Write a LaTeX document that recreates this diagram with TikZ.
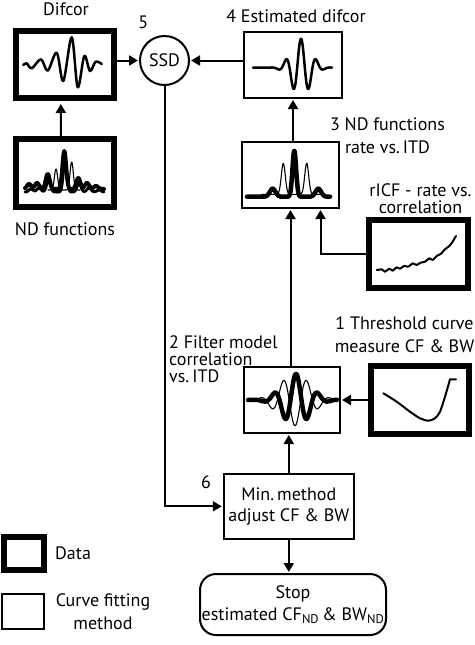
\documentclass[tikz,border=0pt]{standalone}
\usepackage{fontspec}
\setmainfont{PT Sans}
\usetikzlibrary{arrows.meta,calc}
\newcommand\myfirst{\rule{0pt}{14pt}}
\begin{document}
\begin{tikzpicture}[x=1pt,y=-1pt,
  databox/.style={draw, rectangle, line width=6pt, inner sep=0pt},
  fitbox/.style={draw, rectangle, line width=2pt, inner sep=0pt},
  arr/.style={line width=2pt, -{Triangle[length=9pt,width=10pt]}},
  lbl/.style={inner sep=0pt, font=\fontsize{18}{21}\selectfont},
  wave/.style={line width=2.5pt, line join=round, line cap=round},
  thin wave/.style={line width=1.1pt, line join=round, line cap=round},
  fat wave/.style={line width=4.5pt, line join=round, line cap=round},
]
\fill[white] (0,0) rectangle (474,645);
\useasboundingbox (0,0) rectangle (474,645);

% ---------- boxes ----------
\node[databox, minimum width=98.5pt, minimum height=67pt] (difcor) at (64.75,64.5) {};
\node[databox, minimum width=98pt, minimum height=68pt] (ndfun) at (65,173) {};
\node[draw, circle, line width=2pt, minimum size=49pt, inner sep=0pt,
      font=\fontsize{18}{21}\selectfont] (ssd) at (164.5,60.5) {SSD};
\node[fitbox, minimum width=98pt, minimum height=66pt] (estdif) at (293,65) {};
\node[fitbox, minimum width=97pt, minimum height=66pt] (ndrate) at (290.5,175) {};
\node[databox, minimum width=99pt, minimum height=68pt] (ricf) at (418.5,254) {};
\node[fitbox, minimum width=96pt, minimum height=66pt] (filter) at (292,400) {};
\node[databox, minimum width=98pt, minimum height=68pt] (thresh) at (420,400) {};
\node[fitbox, minimum width=130pt, minimum height=65pt, align=center,
      font=\fontsize{18}{21}\selectfont] (minm) at (288.8,506.3)
      {Min.\,method\\adjust CF \& BW};
\node[fitbox, rounded corners=16pt, minimum width=186pt, minimum height=61pt, align=center,
      font=\fontsize{18}{22}\selectfont] (stop) at (293,604.5)
      {Stop\\estimated CF\textsubscript{ND}\,\& BW\textsubscript{ND}};
\node[databox, minimum width=40.5pt, minimum height=33pt] (legdata) at (23.75,553.5) {};
\node[fitbox, minimum width=42.5pt, minimum height=35pt] (legfit) at (22.75,611.5) {};

% ---------- labels ----------
\node[lbl, anchor=base] (tdifcor) at (66,15.5) {Difcor};
\node[lbl, anchor=base] (tndf) at (65,235) {ND functions};
\node[lbl, anchor=base] (t5) at (143.3,28) {5};
\node[lbl, anchor=base] (t4) at (296,22.7) {4 Estimated difcor};
\node[lbl, anchor=north, align=center, font=\fontsize{18}{22.5}\selectfont] (t3) at (387.5,116.3)
     {\myfirst 3 ND functions\\rate vs.\,ITD};
\node[lbl, anchor=north, align=center, font=\fontsize{18}{16.7}\selectfont] (tricf) at (420.5,182.7)
     {\myfirst rICF - rate vs.\\correlation};
\node[lbl, anchor=north, align=center, font=\fontsize{18}{23}\selectfont] (tthr) at (404.5,315)
     {\myfirst 1 Threshold curve\\measure CF \& BW};
\node[lbl, anchor=north west, align=left, font=\fontsize{18}{17.2}\selectfont] (tfilt) at (169,334)
     {\myfirst 2 Filter model\\correlation\\vs.\,ITD};
\node[lbl, anchor=base] (t6) at (206,488.3) {6};
\node[lbl, anchor=base west] (tdata) at (55,559.3) {Data};
\node[lbl, anchor=north, align=center, font=\fontsize{18}{22.5}\selectfont] (tfit) at (103,592.7)
     {\myfirst Curve fitting\\method};

% ---------- connectors ----------
\draw[arr, shorten >=3pt] ([xshift=-4pt]ndfun.north) -- ([xshift=-4pt]difcor.south);
\draw[arr, shorten >=1pt] (ssd.west -| difcor.east) -- (ssd.west);
\draw[arr, shorten >=1pt] (ssd.east -| estdif.west) -- (ssd.east);
\draw[arr, shorten >=1pt] (ndrate.north -| estdif.south) -- (estdif.south);
\draw[arr, shorten >=1pt] (filter.north -| ndrate.south) -- (ndrate.south);
\draw[arr, shorten >=1pt] (ricf.west) -| ([xshift=30pt]ndrate.south);
\draw[arr, shorten >=1pt] (thresh.west) -- (filter.east);
\draw[arr, shorten >=1pt] (minm.north) -- (minm.north |- filter.south);
\draw[arr, shorten >=1pt] (minm.south) -- (minm.south |- stop.north);
\draw[arr, shorten >=1pt] (ssd.south) |- (minm.west);

% ---------- curves ----------
% Difcor (data)
\draw[wave] plot[smooth, tension=0.55] coordinates {(23.3,65) (26.7,63.3) (31.7,68.3) (41,59.3)
  (47.7,70.7) (56.7,52.7) (63.3,81) (71.7,37.3) (77.7,87.3) (84.3,56) (90,71) (95.7,61.7) (101.7,64)};
% ND functions (data)
\draw[thin wave] plot[domain=48:80, samples=120]
  (\x, {190 - 21*exp(-((\x-56)/2.3)*((\x-56)/2.3)) - 28*exp(-((\x-71.7)/2.3)*((\x-71.7)/2.3))});
\draw[line width=4pt, line join=round, line cap=round] plot[domain=25:104, samples=200]
  (\x, {189 - 5*exp(-((\x-29)/3)*((\x-29)/3)) - 6*exp(-((\x-37)/3)*((\x-37)/3))
        - 15*exp(-((\x-47.7)/2.8)*((\x-47.7)/2.8)) - 38*exp(-((\x-64.3)/2.6)*((\x-64.3)/2.6))
        - 11*exp(-((\x-78.3)/2.8)*((\x-78.3)/2.8)) - 6*exp(-((\x-87)/3)*((\x-87)/3))
        - 3*exp(-((\x-96)/3)*((\x-96)/3))});
\draw[line width=3pt, line join=round, line cap=round] plot[domain=25:104, samples=200]
  (\x, {192 - 3*exp(-((\x-31)/3)*((\x-31)/3)) - 4*exp(-((\x-39)/3)*((\x-39)/3))
        - 12*exp(-((\x-48.5)/2.8)*((\x-48.5)/2.8)) - 30*exp(-((\x-65)/2.6)*((\x-65)/2.6))
        - 9*exp(-((\x-79)/2.8)*((\x-79)/2.8)) - 4*exp(-((\x-89)/3)*((\x-89)/3))
        - 2*exp(-((\x-99)/3)*((\x-99)/3))});
% Estimated difcor
\draw[wave] plot[domain=253:332, samples=160]
  (\x, {67.7 - 29*exp(-((\x-301)*(\x-301))/180)*cos(360*((\x-301)/15.3))});
% ND functions rate vs ITD
\draw[thin wave] plot[domain=262:322, samples=160]
  (\x, {194.3 - 31*exp(-((\x-283.3)/2.8)*((\x-283.3)/2.8)) - 31*exp(-((\x-306.7)/2.8)*((\x-306.7)/2.8))});
\draw[fat wave] plot[domain=247:330, samples=200]
  (\x, {196.7 - 46*exp(-((\x-294.3)/2.6)*((\x-294.3)/2.6))
        - 8*exp(-((\x-272.7)/4)*((\x-272.7)/4)) - 8*exp(-((\x-318.3)/4)*((\x-318.3)/4))});
% rICF
\draw[line width=2pt, line join=round, line cap=round] (376.7,270) -- (381.7,269.3) -- (385,271.7)
  -- (389.3,268.7) -- (392.7,270.7) -- (396.7,267.3) -- (400,268.7) -- (404,266) -- (408.3,266.7)
  -- (412.7,263.3) -- (416.7,265) -- (420.7,262.7) -- (425,261.7) -- (429.3,258.3) -- (432.7,260)
  -- (436.7,256) -- (440.7,254) -- (445,249.3) -- (449.3,246) -- (452.7,241.7) -- (456,236);
% Filter model
\draw[thin wave] plot[domain=248:336, samples=200]
  (\x, {400 + 25.6*exp(-((\x-295)/22)*((\x-295)/22))*cos(360*((\x-295)/23.4))});
\draw[fat wave] plot[domain=248:337, samples=200]
  (\x, {400 - 26*exp(-((\x-296)/19)*((\x-296)/19))*cos(360*((\x-296)/22))});
% Threshold curve
\draw[line width=2pt, line join=round, line cap=round] plot[smooth] coordinates {(383.3,393.3)
  (396.7,401.7) (410,411.7) (420,418.3) (428.3,420.7) (435,418.3) (440,411.7) (445,396.7) (450,379.3)}
  -- (456,379.3);
\end{tikzpicture}
\end{document}
